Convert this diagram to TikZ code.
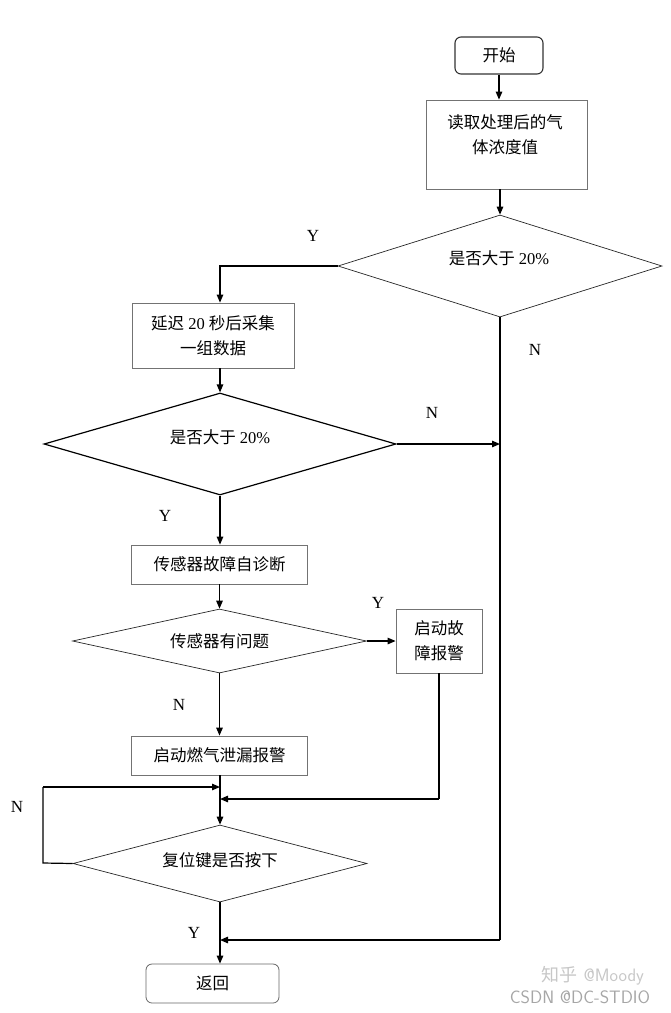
\documentclass[tikz,border=0pt]{standalone}
\usepackage{fontspec}
\setmainfont{Liberation Serif}
\newfontfamily\cjk{Noto Sans CJK SC}
\usetikzlibrary{shapes.geometric,arrows.meta}
\begin{document}
\begin{tikzpicture}[x=1pt,y=-1pt,
  every node/.style={font=\fontsize{16.5}{25}\selectfont},
  boxnode/.style={draw=black!55,line width=0.8pt,rectangle,inner sep=0pt},
  termnode/.style={draw=black!80,line width=1.1pt,rectangle,rounded corners=6pt,inner sep=0pt},
  retnode/.style={draw=black!60,line width=0.8pt,rectangle,rounded corners=6pt,inner sep=0pt},
  thindia/.style={draw=black!85,line width=0.7pt,diamond,inner sep=0pt},
  thickdia/.style={draw=black,line width=1.2pt,diamond,inner sep=0pt},
  conn/.style={line width=1.2pt,-{Triangle[length=8pt,width=6.5pt]}},
  plain/.style={line width=1.2pt},
  yn/.style={font=\fontsize{17}{18}\selectfont},
  wm/.style={text=black!35,font=\fontsize{18}{19}\selectfont\sffamily}
]
\useasboundingbox (0,0) rectangle (671,1013);

% nodes
\node[termnode,minimum width=88pt,minimum height=37pt] (start) at (499,55.5) {\cjk 开始};
\node[boxnode,minimum width=161pt,minimum height=89pt] (b1) at (506.5,144.5) {};
\node[align=center] (b1t) at (505,135) {\cjk 读取处理后的气\\\cjk 体浓度值};
\node[thindia,minimum width=324pt,minimum height=102pt] (d1) at (500,266) {};
\node (d1t) at (499,258) {{\cjk 是否大于} 20\%};
\node[boxnode,minimum width=162pt,minimum height=65pt,align=center] (b2) at (213,335.5) {{\cjk 延迟} 20 {\cjk 秒后采集}\\\cjk 一组数据};
\node[thickdia,minimum width=352pt,minimum height=102pt] (d2) at (220,444) {};
\node (d2t) at (220,437) {{\cjk 是否大于} 20\%};
\node[boxnode,minimum width=176pt,minimum height=39pt] (b3) at (219.5,564.5) {\cjk 传感器故障自诊断};
\node[thindia,minimum width=294pt,minimum height=64pt] (d3) at (219.5,641) {};
\node (d3t) at (219.5,641) {\cjk 传感器有问题};
\node[boxnode,minimum width=86pt,minimum height=64pt,align=center] (b4) at (439,641) {\cjk 启动故\\\cjk 障报警};
\node[boxnode,minimum width=176pt,minimum height=39pt] (b5) at (219.5,755.5) {\cjk 启动燃气泄漏报警};
\node[thindia,minimum width=294pt,minimum height=77pt] (d4) at (220,863.5) {};
\node (d4t) at (220,860) {\cjk 复位键是否按下};
\node[retnode,minimum width=133pt,minimum height=39pt] (ret) at (212.5,983.5) {\cjk 返回};

% helper coordinates
\coordinate (m1) at (220,787);
\coordinate (m2) at (220,799);
\coordinate (m3) at (220,940);
\coordinate (loopc) at (43,863);

% connectors
\draw[conn] (start.south) -- (start.south |- b1.north);
\draw[conn] (b1.south -| d1.north) -- (d1.north);
\draw[conn] (d1.west) -| (b2.north -| d2.north);
\draw[conn] (b2.south -| d2.north) -- (d2.north);
\draw[conn] (d2.east) -- (d2.east -| d1.south);
\draw[plain] (d1.south) -- (d1.south |- m3);
\draw[conn] (d1.south |- m3) -- (m3);
\draw[conn] (d2.south) -- (d2.south |- b3.north);
\draw[conn] (b3.south -| d3.north) -- (d3.north);
\draw[conn] (d3.east) -- (b4.west);
\draw[conn] (d3.south) -- (d3.south |- b5.north);
\draw[conn] (b5.south -| d4.north) -- (d4.north);
\draw[plain] (b4.south) -- (b4.south |- m2);
\draw[conn] (b4.south |- m2) -- (m2);
\draw[plain] (d4.west) -- (loopc) -- (loopc |- m1);
\draw[conn] (loopc |- m1) -- (m1);
\draw[conn] (d4.south) -- (d4.south |- ret.north);

% labels
\node[yn] (l1) at (313,236) {Y};
\node[yn] (l2) at (535,350) {N};
\node[yn] (l3) at (432,413) {N};
\node[yn] (l4) at (165,516) {Y};
\node[yn] (l5) at (378,603) {Y};
\node[yn] (l6) at (179,705) {N};
\node[yn] (l7) at (17,807) {N};
\node[yn] (l8) at (194,933) {Y};

% watermark
\node[wm,text=black!22] (w1) at (593,976) {{\cjk 知乎} @Moody};
\node[wm] (w2) at (580,997) {CSDN @DC-STDIO};
\end{tikzpicture}
\end{document}
